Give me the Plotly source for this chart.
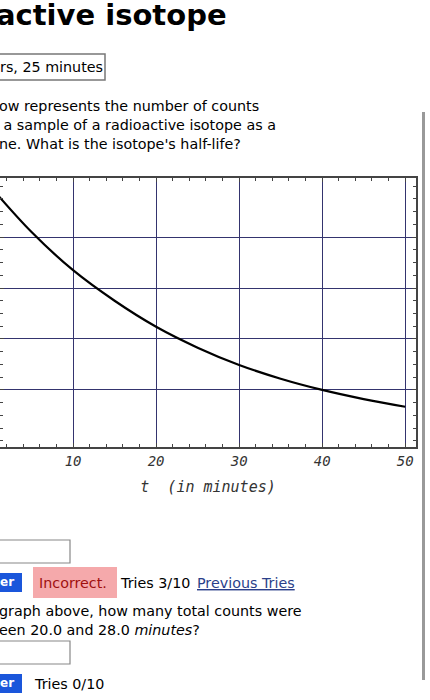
import plotly.graph_objects as go

t_minutes = [0, 5, 10, 15, 20, 25, 30, 35, 40, 45, 50]
counts = [5.0, 4.1, 3.35, 2.75, 2.24, 1.83, 1.49, 1.22, 1.0, 0.82, 0.67]
x_ticks = [10, 20, 30, 40, 50]
y_ticks = [1, 2, 3, 4]

W, H = 430, 700
def px(x): return x / W
def py(y): return 1 - y / H

fig = go.Figure()
fig.add_trace(go.Scatter(x=t_minutes, y=counts, mode="lines", line=dict(color="black", width=2.2, shape="spline"),
                         showlegend=False, hoverinfo="skip"))

grid = "#34346e"
fig.update_xaxes(domain=[0, px(416)], range=[1.2, 51.3], tickvals=x_ticks, ticktext=["<i>%d</i>" % v for v in x_ticks],
                 showgrid=True, gridcolor=grid, gridwidth=1, zeroline=False,
                 showline=True, linecolor="#444", linewidth=1.5, mirror="ticks", ticks="inside", ticklen=4,
                 tickcolor="#444", minor=dict(dtick=2, ticks="inside", ticklen=3, tickcolor="#444", showgrid=False),
                 tickfont=dict(family="DejaVu Sans Mono", size=14, color="#333"),
                 title=dict(text="<i>t  (in minutes)</i>", font=dict(family="DejaVu Sans Mono", size=15, color="#333"), standoff=14))
fig.update_yaxes(domain=[py(447), py(178)], range=[-0.12, 5.16], tickvals=y_ticks, showticklabels=False,
                 showgrid=True, gridcolor=grid, gridwidth=1, zeroline=False,
                 showline=True, linecolor="#444", linewidth=1.5, mirror="ticks", ticks="inside", ticklen=4,
                 tickcolor="#444", minor=dict(dtick=0.25, ticks="inside", ticklen=3, tickcolor="#444", showgrid=False))

F = "DejaVu Sans"
ann = []
def text(x, y, s, size=14.3, color="black", **kw):
    ann.append(dict(x=px(x - 3), y=py(y), xref="paper", yref="paper", text=s, showarrow=False,
                    xanchor="left", yanchor="middle", font=dict(family=F, size=size, color=color), **kw))

text(-3, 15, "<b>active isotope</b>", size=29)
text(1, 67, "rs, 25 minutes")
text(0, 106, "ow represents the number of counts")
text(0, 125, " a sample of a radioactive isotope as a")
text(0, 144, "ne. What is the isotope's half-life?")
text(40, 583, "Incorrect.", color="#a01010")
text(121, 583, "Tries 3/10")
text(198, 583, "<u>Previous Tries</u>", color="#2b3f8a")
text(0, 611, "graph above, how many total counts were")
text(0, 630, "een 20.0 and 28.0 <i>minutes</i>?")
text(35, 684, "Tries 0/10")
text(1, 582, "<b>er</b>", size=12, color="white")
text(1, 683, "<b>er</b>", size=12, color="white")

shapes = []
def rect(x0, y0, x1, y1, **kw):
    shapes.append(dict(type="rect", xref="paper", yref="paper", x0=px(x0), x1=px(x1), y0=py(y1), y1=py(y0), layer="below", **kw))
rect(-3, 54, 105, 80, line=dict(color="#777", width=1.5), fillcolor="white")
rect(-10, 540, 70, 563, line=dict(color="#888", width=1.2), fillcolor="white")
rect(-10, 641, 70, 664, line=dict(color="#888", width=1.2), fillcolor="white")
rect(-10, 573, 22, 592, line=dict(width=0), fillcolor="#1a56db")
rect(-10, 674, 22, 693, line=dict(width=0), fillcolor="#1a56db")
rect(33, 567, 117, 598, line=dict(width=0), fillcolor="#f5a9ab")
rect(422, 112, 425, 680, line=dict(width=0), fillcolor="#999")

fig.update_layout(width=W, height=H, margin=dict(l=0, r=0, t=0, b=0), plot_bgcolor="white", paper_bgcolor="white",
                  annotations=ann, shapes=shapes)
fig.write_html("out.html", config={"displayModeBar": False},
               post_script="document.body.style.margin='0';document.body.style.overflow='hidden';")
